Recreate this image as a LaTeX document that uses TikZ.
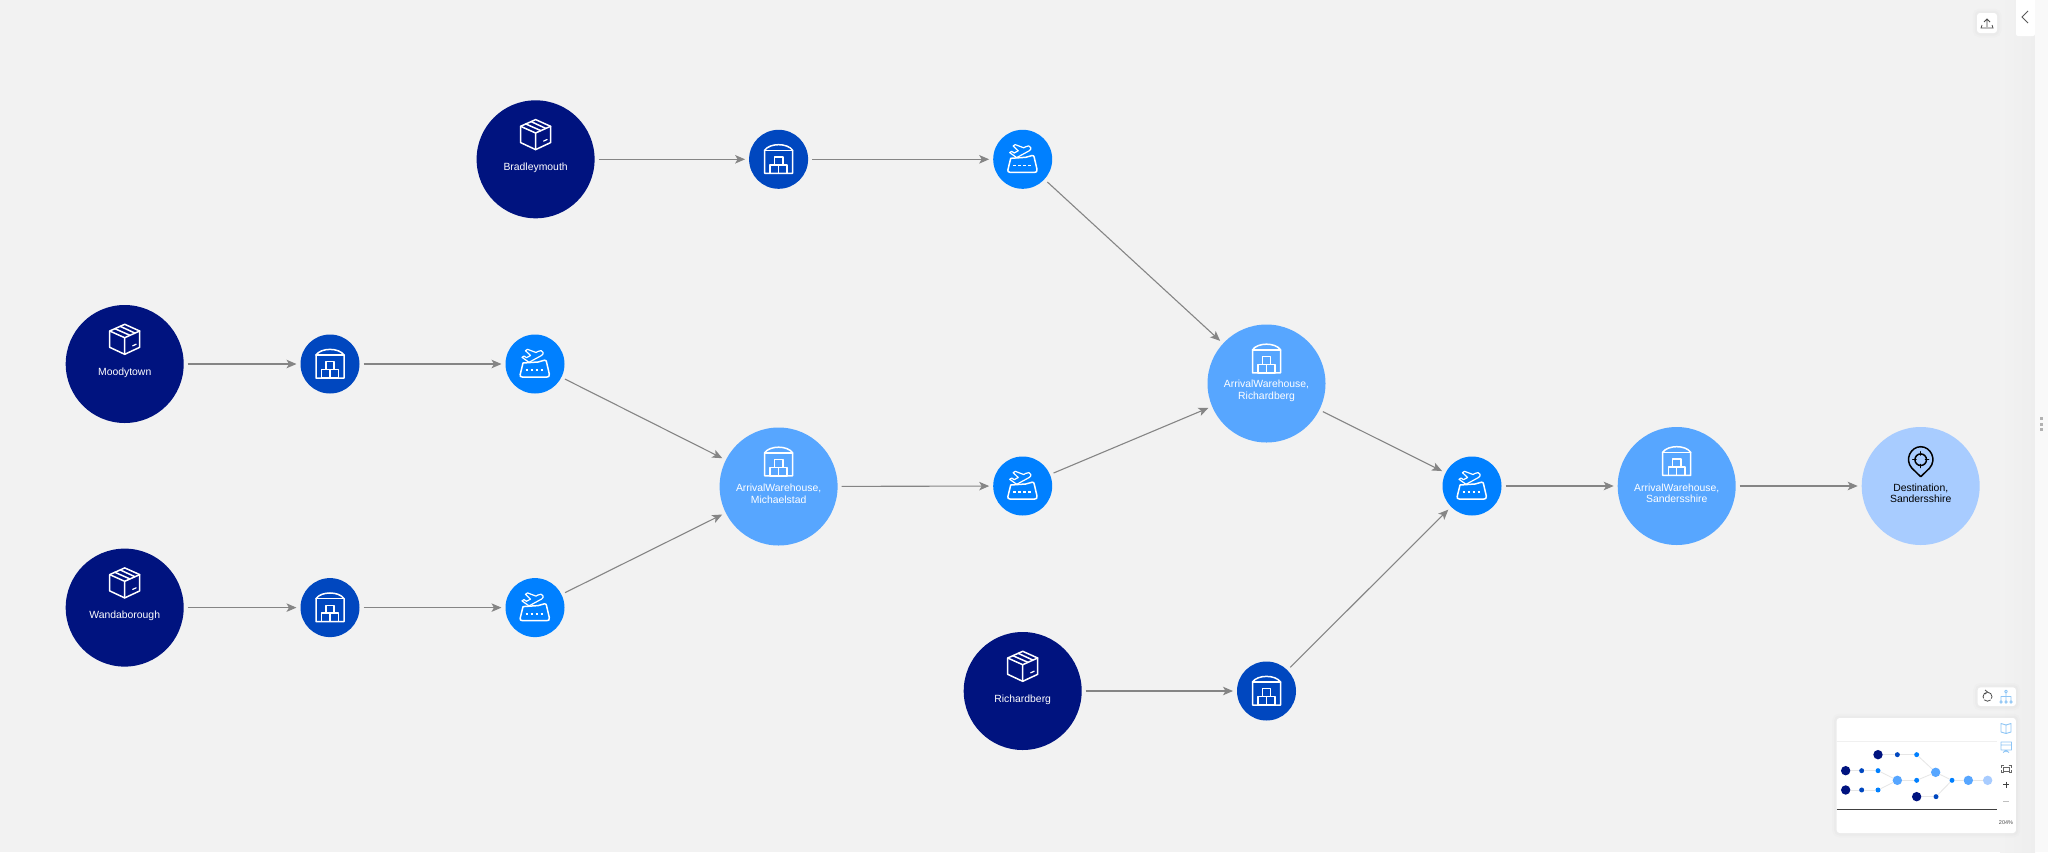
\documentclass[tikz,border=0pt]{standalone}
\usepackage{fontspec}
\setmainfont{Liberation Sans}
\usetikzlibrary{arrows.meta,calc}
\definecolor{bg}{HTML}{F2F2F2}
\definecolor{cshade}{HTML}{EEEEEE}
\definecolor{cnavy}{HTML}{00137F}
\definecolor{cware}{HTML}{0047BF}
\definecolor{ccust}{HTML}{0080FF}
\definecolor{carr}{HTML}{57A6FF}
\definecolor{cdest}{HTML}{A8CCFF}
\definecolor{cedge}{HTML}{858585}
\definecolor{cui}{HTML}{8EC5F5}
\definecolor{cpanel}{HTML}{F9F9F9}
\definecolor{cmedge}{HTML}{E6E6E6}
\newcommand{\lbl}{\fontsize{10.4}{11.3}\selectfont}
\tikzset{
  x=1pt,y=-1pt,
  big/.style={circle,inner sep=0pt,minimum size=118pt,outer sep=4pt},
  small/.style={circle,inner sep=0pt,minimum size=59pt,outer sep=4pt},
  src/.style={big,fill=cnavy},
  arr/.style={big,fill=carr},
  dst/.style={big,fill=cdest},
  ware/.style={small,fill=cware},
  cust/.style={small,fill=ccust},
  edge/.style={draw=cedge,line width=1.1pt,-{Stealth[length=10pt,width=8.5pt,inset=2.5pt]}},
  txt/.style={font=\lbl,text=white,align=center,inner sep=0pt},
  ico/.style={draw=#1,line width=1.5pt,line join=round,line cap=round},
  ico/.default=white,
  card/.style={fill=white,rounded corners=3pt,
    preaction={draw=black,draw opacity=.012,line width=9pt},
    preaction={draw=black,draw opacity=.015,line width=5pt}},
  mini/.style={circle,inner sep=0pt,minimum size=#1},
  medge/.style={draw=cmedge,line width=0.8pt},
  uiicon/.style={draw=cui,line width=0.9pt,line join=round},
  pics/boxicon/.style={code={
    \draw[ico] (0,-39.7) -- (15,-33) -- (15,-16.7) -- (0,-9.7) -- (-15,-16.7) -- (-15,-33) -- cycle;
    \draw[ico] (-15,-33) -- (0,-26.3) -- (15,-33) (0,-26.3) -- (0,-9.7);
    \draw[ico] (-4.5,-37.7) -- (10,-31) (-10,-35.4) -- (5,-28.8);
    \draw[ico,line width=1.2pt] (8,-18.2) -- (11.5,-19.8);
  }},
  pics/wareicon/.style={code={
    \draw[ico] (-14,14) -- (-14,-9) .. controls (-9,-16.5) and (9,-16.5) .. (14,-9) -- (14,14) -- cycle;
    \draw[ico] (-14,-9) -- (14,-9);
    \draw[ico] (-4.2,-2.3) rectangle (4.2,5.5);
    \draw[ico] (-8.4,5.5) rectangle (0,14);
    \draw[ico] (0,5.5) rectangle (8.4,14);
  }},
  pics/custicon/.style={code={
    \draw[ico] (-12,-1) -- (3,-2) -- (9.5,-3.8) .. controls (11,-4) and (11.2,-3) .. (11.5,-2) -- (14.3,10) .. controls (14.6,12.5) and (13.5,13) .. (12,13) -- (-12.8,13) .. controls (-14.5,13) and (-15.2,12) .. (-14.8,10.5) -- (-12,-1);
    \draw[ico,line width=1.7pt,dash pattern=on 2.8pt off 2.2pt,line cap=butt] (-9.5,6.2) -- (10,6.2);
    \draw[ico,line width=1.2pt,fill=ccust] (8,-11.7) .. controls (7.5,-13.8) and (5,-13.8) .. (3,-12.6) -- (1,-11.5) -- (-7.5,-14.7) -- (-9.5,-13.3) -- (-4.5,-8.5) -- (-8.5,-6.3) -- (-11,-8) -- (-13,-6.7) -- (-6,-1.7) -- (6.5,-8.5) .. controls (8,-9.4) and (8.4,-10.5) .. (8,-11.7) -- cycle;
  }},
  pics/pinicon/.style={code={
    \draw[ico=black] (0,-9.3) -- (-8.8,-17.8) .. controls (-16.5,-26.5) and (-10,-39.3) .. (0,-39.3) .. controls (10,-39.3) and (16.5,-26.5) .. (8.8,-17.8) -- cycle;
    \draw[ico=black] (0,-26.3) circle (5.8pt);
    \draw[ico=black] (0,-34.2) -- (0,-31) (0,-21.6) -- (0,-18.4) (-7.9,-26.3) -- (-4.7,-26.3) (4.7,-26.3) -- (7.9,-26.3);
  }},
}
\begin{document}
\begin{tikzpicture}
\useasboundingbox (0,0) rectangle (2048,852);
\fill[bg] (0,0) rectangle (2048,852);
% right side panel
\shade[left color=bg,right color=cshade] (2000,0) rectangle (2035,852);
\fill[cpanel] (2035,0) rectangle (2048,852);
\fill[white,rounded corners=2pt] (2016,-4) rectangle (2035,36);
\draw[black!65,line width=0.8pt] (2028,11) -- (2022,17) -- (2028,23);
\foreach \yy in {417,422.5,428}{\fill[black!30] (2040,\yy) rectangle (2043,\yy+3);}

% nodes
\node[src]  (brad)  at (535.6,159.3) {};
\node[src]  (mood)  at (124.7,364) {};
\node[src]  (wand)  at (124.7,607.6) {};
\node[src]  (rich)  at (1022.7,691) {};
\node[ware] (w1)    at (778.6,159.3) {};
\node[ware] (w2)    at (330,364) {};
\node[ware] (w3)    at (330,607.6) {};
\node[ware] (w4)    at (1266.5,691) {};
\node[cust] (c1)    at (1022.7,159.3) {};
\node[cust] (c2)    at (535,364) {};
\node[cust] (c3)    at (535,607.6) {};
\node[cust] (c4)    at (1022.7,486) {};
\node[cust] (c5)    at (1472,486) {};
\node[arr]  (a1)    at (778.6,486.5) {};
\node[arr]  (a2)    at (1266.5,383.5) {};
\node[arr]  (a3)    at (1676.7,486) {};
\node[dst]  (dest)  at (1920.7,486) {};

% icons
\foreach \n in {brad,mood,wand,rich}{\pic at (\n) {boxicon};}
\foreach \n in {a1,a2,a3}{\pic at ($(\n)+(0,-24.7)$) {wareicon};}
\foreach \n in {w1,w2,w3,w4}{\pic at (\n) {wareicon};}
\foreach \n in {c1,c2,c3,c4,c5}{\pic at (\n) {custicon};}
\pic at (dest) {pinicon};

% labels
\node[txt] (tbrad) at ($(brad)+(0,8.4)$) {Bradleymouth};
\node[txt] (tmood) at ($(mood)+(0,8.4)$) {Moodytown};
\node[txt] (twand) at ($(wand)+(0,8.4)$) {Wandaborough};
\node[txt] (trich) at ($(rich)+(0,8.4)$) {Richardberg};
\node[txt] (ta1) at ($(a1)+(0,7.2)$) {ArrivalWarehouse,\\Michaelstad};
\node[txt] (ta2) at ($(a2)+(0,7.2)$) {ArrivalWarehouse,\\Richardberg};
\node[txt] (ta3) at ($(a3)+(0,7.2)$) {ArrivalWarehouse,\\Sandersshire};
\node[txt,text=black] (tdest) at ($(dest)+(0,7.2)$) {Destination,\\Sandersshire};

% edges
\draw[edge] (brad) -- (w1);
\draw[edge] (w1) -- (c1);
\draw[edge] (c1) -- (a2);
\draw[edge] (mood) -- (w2);
\draw[edge] (w2) -- (c2);
\draw[edge] (c2) -- (a1);
\draw[edge] (wand) -- (w3);
\draw[edge] (w3) -- (c3);
\draw[edge] (c3) -- (a1);
\draw[edge] (a1) -- (c4);
\draw[edge] (c4) -- (a2);
\draw[edge] (a2) -- (c5);
\draw[edge] (rich) -- (w4);
\draw[edge] (w4) -- (c5);
\draw[edge] (c5) -- (a3);
\draw[edge] (a3) -- (dest);

% export button
\node[card,minimum width=20pt,minimum height=20pt,inner sep=0pt] (export) at (1987,23) {};
\draw[black!70,line width=0.8pt] (1987,27) -- (1987,19) (1984,22) -- (1987,19) -- (1990,22);
\draw[black!70,line width=0.8pt] (1982,25) -- (1981,28) -- (1993,28) -- (1992,25);

% layout buttons
\node[card,minimum width=38.3pt,minimum height=18.7pt,inner sep=0pt] (tools) at (1996.8,696.7) {};
\draw[black!70,line width=0.8pt,dash pattern=on 7pt off 1.5pt] (1987.5,696.7) circle (4.5pt);
\draw[black!70,line width=0.8pt] (1985,690) -- (1987.5,692) -- (1985,694);
\draw[uiicon] (2006,691.5) circle (1.4pt) (2006,693) -- (2006,696.5) (2001,701) -- (2001,696.5) -- (2011,696.5) -- (2011,701) (2006,696.5) -- (2006,701);
\draw[uiicon] (2001,702) circle (1.2pt) (2006,702) circle (1.2pt) (2011,702) circle (1.2pt);

% minimap
\node[card,minimum width=179.3pt,minimum height=115pt,inner sep=0pt] (map) at (1926.3,775.5) {};
\coordinate (ml1) at (1836.7,741); \coordinate (mr1) at (1997,741);
\coordinate (ml2) at (1836.7,809); \coordinate (mr2) at (1997,809);
\draw[black!6,line width=0.8pt] (ml1) -- (mr1);
\draw[black!75,line width=0.8pt] (ml2) -- (mr2);
\begin{scope}[shift={(1820,670)},x=0.3333pt,y=-0.3333pt]
  \node[mini=9.4pt,fill=cnavy] (m1) at (174,254) {};
  \node[mini=9.4pt,fill=cnavy] (m2) at (77,302) {};
  \node[mini=9.4pt,fill=cnavy] (m3) at (77,360) {};
  \node[mini=9.4pt,fill=cnavy] (m4) at (290,380) {};
  \node[mini=5pt,fill=cware] (m5) at (232,254) {};
  \node[mini=5pt,fill=cware] (m6) at (125,302) {};
  \node[mini=5pt,fill=cware] (m7) at (125,360) {};
  \node[mini=5pt,fill=cware] (m8) at (348,380) {};
  \node[mini=5pt,fill=ccust] (m9) at (290,254) {};
  \node[mini=5pt,fill=ccust] (m10) at (174,302) {};
  \node[mini=5pt,fill=ccust] (m11) at (174,360) {};
  \node[mini=5pt,fill=ccust] (m12) at (290,331) {};
  \node[mini=5pt,fill=ccust] (m13) at (396,331) {};
  \node[mini=9.4pt,fill=carr] (m14) at (232,331) {};
  \node[mini=9.4pt,fill=carr] (m15) at (347,307) {};
  \node[mini=9.4pt,fill=carr] (m16) at (445,331) {};
  \node[mini=9.4pt,fill=cdest] (m17) at (503,331) {};
\end{scope}
\foreach \a/\b in {m1/m5,m5/m9,m9/m15,m2/m6,m6/m10,m10/m14,m3/m7,m7/m11,m11/m14,m14/m12,m12/m15,m15/m13,m4/m8,m8/m13,m13/m16,m16/m17}{\draw[medge] (\a) -- (\b);}

% map controls
\draw[uiicon] (2006,725) -- (2001,723.5) -- (2001,732) -- (2006,733.5) -- (2011,732) -- (2011,723.5) -- cycle (2006,725) -- (2006,733.5);
\draw[uiicon] (2001,742) rectangle (2011.5,750) (2001,745) -- (2011.5,745) (2006,750) -- (2006,752) (2006,750.5) -- (2003,752.5) (2006,750.5) -- (2009,752.5);
\draw[black!60,line width=0.8pt] (2001,768) -- (2001,765) -- (2004,765) (2008.5,765) -- (2011.5,765) -- (2011.5,768) (2011.5,770) -- (2011.5,772.5) -- (2008.5,772.5) (2004,772.5) -- (2001,772.5) -- (2001,770) (2003,767) rectangle (2009.5,771);
\draw[black!75,line width=0.8pt] (2006,781.5) -- (2006,787.5) (2003,784.5) -- (2009,784.5);
\draw[black!25,line width=0.8pt] (2003,801.5) -- (2009,801.5);
\node[font=\fontsize{5.5}{6}\selectfont,text=black!70,inner sep=0pt] (zoomval) at (2006,822.7) {204\%};
\end{tikzpicture}
\end{document}
